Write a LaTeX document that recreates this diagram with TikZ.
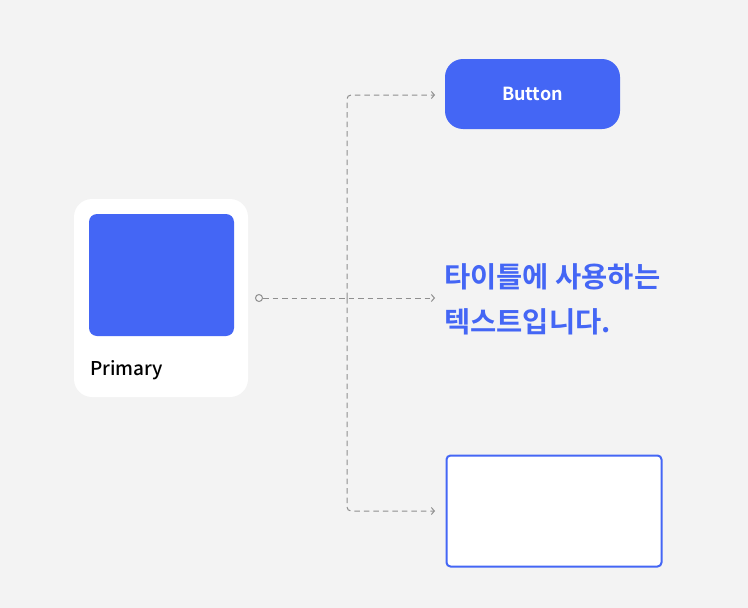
\documentclass[tikz,border=0pt]{standalone}
\usepackage{fontspec}
\setmainfont{Noto Sans}
\newfontfamily\krbold{Noto Sans CJK KR Bold}
\newfontfamily\krmed{Noto Sans CJK KR Medium}
\usetikzlibrary{arrows.meta}
\definecolor{bg}{HTML}{F3F3F3}
\definecolor{brand}{HTML}{4466F5}
\definecolor{conn}{HTML}{8F8F8F}
\tikzset{
  link/.style={draw=conn, line width=1pt, dash pattern=on 5.5pt off 4pt, rounded corners=4pt, -{Straight Barb[length=3pt,width=7pt,line width=1pt]}},
}
\begin{document}
\begin{tikzpicture}[x=1pt,y=-1pt]
\fill[bg] (0,0) rectangle (748,608);
\useasboundingbox (0,0) rectangle (748,608);
% card
\node[fill=white, rounded corners=18pt, minimum width=174pt, minimum height=198pt, inner sep=0pt] (card) at (161,298) {};
\node[fill=brand, rounded corners=8pt, minimum width=145pt, minimum height=122pt, inner sep=0pt] (swatch) at (161.5,275) {};
\node[anchor=base west, inner sep=0pt, font=\krmed\fontsize{19}{20}\selectfont] (lbl) at (90,375) {Primary};
% source
\node[circle, draw=conn, line width=1pt, fill=bg, minimum size=7pt, inner sep=0pt] (src) at (259,298) {};
\coordinate (j) at (347,298);
% targets
\node[fill=brand, rounded corners=18pt, minimum width=175pt, minimum height=70pt, inner sep=0pt, text=white, font=\krbold\fontsize{18}{20}\selectfont] (btn) at (532.5,94) {\raisebox{-1.5pt}{Button}};
\node[anchor=west, inner sep=0pt, align=left, text=brand, font=\krbold\fontsize{28.5}{45}\selectfont] (title) at (444,299) {타이틀에 사용하는\\텍스트입니다.};
\node[draw=brand, fill=white, line width=2pt, rounded corners=4pt, minimum width=215pt, minimum height=111pt, inner sep=0pt] (box) at (554,511) {};
\coordinate (tA) at (435,95);
\coordinate (tB) at (435,298);
\coordinate (tC) at (435,511);
% connectors
\draw[link] (src.east) -- (tB);
\draw[link] (j) |- (tA);
\draw[link] (j) |- (tC);
\end{tikzpicture}
\end{document}
